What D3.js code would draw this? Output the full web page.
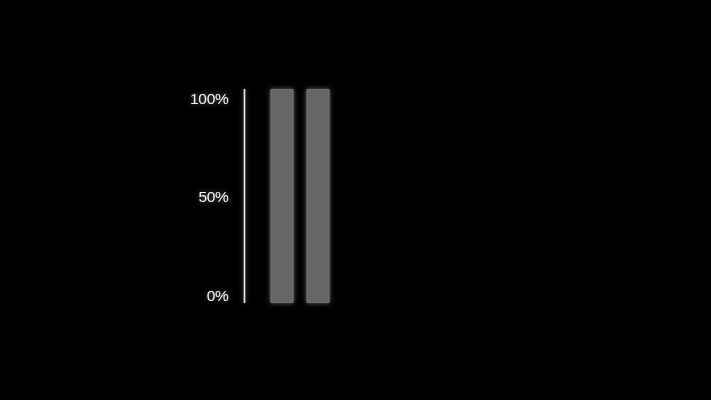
<!DOCTYPE html>
<html>
<head>
<meta charset="utf-8">
<script src="https://cdn.jsdelivr.net/npm/d3@7"></script>
<style>
  html, body { margin: 0; padding: 0; background: #000; }
  svg { display: block; }
</style>
</head>
<body>
<svg id="chart" width="711" height="400"></svg>
<script>
// ##### Data
var categories = ['A', 'B'];
var values = [100, 100];
var tickValues = [0, 50, 100];
var tickLabels = ['0%', '50%', '100%'];

// ##### Setup
var svg = d3.select('#chart');

svg.append('rect')
  .attr('width', 711)
  .attr('height', 400)
  .attr('fill', '#000');

// Soft white glow used on everything
// NOTE user space units, otherwise the thin axis line gets clipped away
var defs = svg.append('defs');
var glow = defs.append('filter')
  .attr('id', 'glow')
  .attr('filterUnits', 'userSpaceOnUse')
  .attr('x', 0).attr('y', 0)
  .attr('width', 711).attr('height', 400);
glow.append('feGaussianBlur')
  .attr('in', 'SourceAlpha')
  .attr('stdDeviation', 2.5)
  .attr('result', 'blur');
glow.append('feFlood').attr('flood-color', '#fff').attr('flood-opacity', 0.4);
glow.append('feComposite').attr('in2', 'blur').attr('operator', 'in').attr('result', 'shadow');
var merge = glow.append('feMerge');
merge.append('feMergeNode').attr('in', 'shadow');
merge.append('feMergeNode').attr('in', 'SourceGraphic');

// Scales
var y = d3.scaleLinear().domain([0, 100]).range([302.5, 89.5]);
// labels sit a bit inside the axis ends
var yLabel = d3.scaleLinear().domain([0, 100]).range([295, 98]);
var x = d3.scaleBand()
  .domain(categories)
  .range([253, 347])
  .paddingInner(0.389)
  .paddingOuter(0.5);

// ##### Axis line
svg.append('rect')
  .attr('x', 243.7)
  .attr('y', y(100) - 0.5)
  .attr('width', 1.6)
  .attr('height', y(0) - y(100) + 1)
  .attr('fill', '#ececec')
  .attr('filter', 'url(#glow)');

// ##### Tick labels
svg.append('g')
  .selectAll('text')
  .data(tickValues)
  .enter()
  .append('text')
  .attr('x', 228.5)
  .attr('y', function(d) { return yLabel(d); })
  .attr('dy', '0.36em')
  .attr('text-anchor', 'end')
  .attr('font-family', 'Liberation Sans, Arial, sans-serif')
  .attr('font-size', 15.5)
  .attr('letter-spacing', -0.3)
  .attr('fill', '#f4f4f4')
  .attr('filter', 'url(#glow)')
  .text(function(d, i) { return tickLabels[i]; });

// ##### Bars
svg.append('g')
  .selectAll('rect')
  .data(values)
  .enter()
  .append('rect')
  .attr('x', function(d, i) { return x(categories[i]); })
  .attr('y', function(d) { return y(d); })
  .attr('width', x.bandwidth())
  .attr('height', function(d) { return y(0) - y(d); })
  .attr('fill', '#666')
  .attr('stroke', '#6f6f6f')
  .attr('stroke-width', 1)
  .attr('filter', 'url(#glow)');
</script>
</body>
</html>
